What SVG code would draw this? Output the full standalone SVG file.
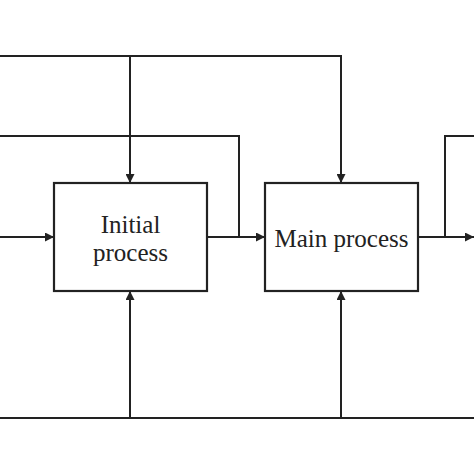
<svg xmlns="http://www.w3.org/2000/svg" width="474" height="474" viewBox="0 0 474 474">
<style>
.ln{fill:none;stroke:#222;stroke-width:2}
.bx{fill:#fff;stroke:#222;stroke-width:2.2}
.t{font-family:"Liberation Serif",serif;font-size:25px;fill:#222;text-anchor:middle}
</style>
<defs>
<marker id="ah" viewBox="0 0 10 10" refX="10" refY="5" markerWidth="9" markerHeight="9" markerUnits="userSpaceOnUse" orient="auto">
<path d="M0,0 L10,5 L0,10 Z" fill="#222"/>
</marker>
</defs>
<g id="connectors">
<path class="ln" d="M0,56 H341 V183" marker-end="url(#ah)"/>
<path class="ln" d="M130,56 V183" marker-end="url(#ah)"/>
<path class="ln" d="M0,136 H239 V237"/>
<path class="ln" d="M0,237 H54" marker-end="url(#ah)"/>
<path class="ln" d="M207,237 H265" marker-end="url(#ah)"/>
<path class="ln" d="M418,237 H474" marker-end="url(#ah)"/>
<path class="ln" d="M445,237 V136 H474"/>
<path class="ln" d="M0,418 H474"/>
<path class="ln" d="M130,418 V291" marker-end="url(#ah)"/>
<path class="ln" d="M341,418 V291" marker-end="url(#ah)"/>
</g>
<g id="initial">
<rect class="bx" x="54" y="183" width="153" height="108"/>
<text class="t" x="130.5" y="233">Initial</text>
<text class="t" x="130.5" y="261">process</text>
</g>
<g id="main">
<rect class="bx" x="265" y="183" width="153" height="108"/>
<text class="t" x="341.5" y="247">Main process</text>
</g>
</svg>
